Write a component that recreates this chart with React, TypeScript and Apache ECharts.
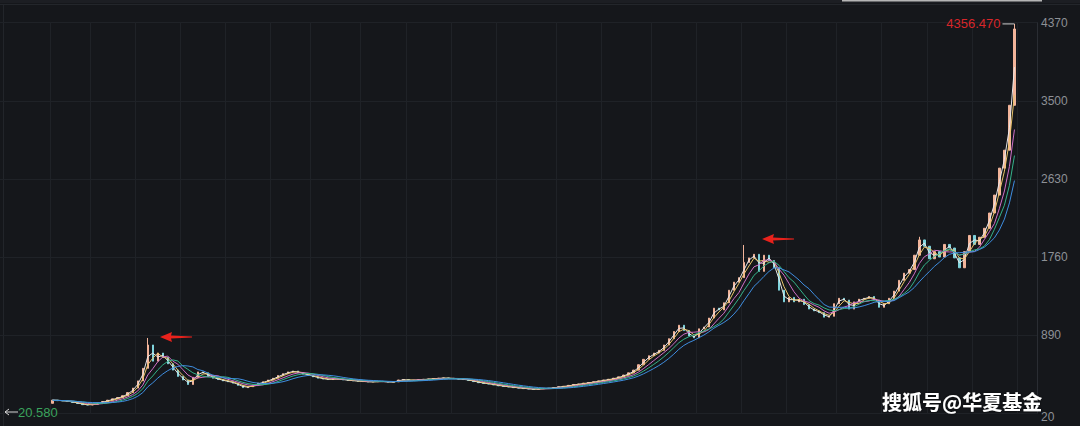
import React, { useEffect, useRef } from "react";
import * as echarts from "echarts";

// ---- data ----
const START_INDEX = 10; // first category slot that holds a candle
const TOTAL_SLOTS = 207; // category slots on the x axis (a few empty at the right)
const FIRST_OPEN = 130;
const CLOSES: number[] = [
  165, 160, 158, 150, 140, 128, 115, 112, 120, 135,
  150, 165, 180, 195, 215, 250, 300, 380, 520, 780,
  600, 690, 640, 570, 500, 430, 390, 340, 420, 480,
  470, 430, 410, 395, 380, 370, 355, 330, 305, 315,
  335, 355, 370, 390, 410, 440, 460, 480, 490, 470,
  455, 440, 425, 410, 400, 395, 405, 400, 390, 385,
  380, 375, 372, 368, 370, 375, 372, 365, 370, 390,
  395, 385, 388, 392, 398, 400, 405, 410, 412, 408,
  404, 400, 395, 385, 372, 360, 352, 345, 335, 325,
  318, 312, 305, 300, 294, 290, 285, 292, 298, 296,
  305, 315, 320, 330, 340, 345, 355, 362, 370, 380,
  390, 398, 410, 425, 445, 470, 500, 560, 620, 660,
  690, 720, 780, 850, 930, 1000, 940, 880, 860, 960,
  980, 1080, 1190, 1170, 1250, 1390, 1480, 1530, 1700, 1750,
  1790, 1600, 1780, 1720, 1640, 1390, 1260, 1310, 1260, 1290,
  1230, 1180, 1160, 1140, 1090, 1100, 1240, 1300, 1280, 1180,
  1260, 1290, 1300, 1320, 1280, 1200, 1240, 1300, 1380, 1500,
  1580, 1620, 1780, 1950, 1880, 1740, 1820, 1760, 1900, 1860,
  1750, 1640, 1820, 2000, 1900, 1980, 2080, 2250, 2450, 2750,
  2950, 3450, 4300,
];
// [category slot, high] for the visible long upper wicks
const HIGH_WICKS: [number, number][] = [
  [29, 858],
  [148, 1894],
  [183, 1985],
  [202, 4356.47],
];
const Y_MIN = 20;
const Y_MAX = 4370;
const Y_STEP = 870;
const MAX_LABEL = "4356.470";
const MIN_LABEL = "20.580";
// moving-average windows (in candles of this chart) and their colours
const MA_PERIODS = [2, 3, 5, 7, 10];
const MA_COLORS = ["#e8e8e8", "#e9c46a", "#d070c8", "#35b28a", "#3f8ee0"];
const GRID_SLOTS = [10, 18, 27, 36, 45, 54, 62, 72, 81, 90, 99, 111, 120, 130, 139, 148, 157, 167, 176, 185, 194, 203];
const WATERMARK = "搜狐号@华夏基金";

export default function App() {
  const ref = useRef<HTMLDivElement>(null);

  useEffect(() => {
    document.body.style.margin = "0";
    const chart = echarts.init(ref.current!, null, { renderer: "svg" });
    const n = TOTAL_SLOTS;
    const categories = Array.from({ length: n }, (_, i) => String(i));
    const wick = new Map<number, number>(HIGH_WICKS);
    const candles: any[] = new Array(n).fill("-");
    CLOSES.forEach((c, k) => {
      const idx = START_INDEX + k;
      const o = k === 0 ? FIRST_OPEN : CLOSES[k - 1];
      const hi = Math.max(o, c, wick.get(idx) ?? 0);
      const lo = Math.min(o, c);
      candles[idx] = [o, c, lo, hi];
    });
    const ma = (p: number) => {
      const arr: any[] = new Array(n).fill("-");
      for (let k = 0; k < CLOSES.length; k++) {
        const from = Math.max(0, k - p + 1);
        let s = 0;
        for (let j = from; j <= k; j++) s += CLOSES[j];
        arr[START_INDEX + k] = +(s / (k - from + 1)).toFixed(2);
      }
      return arr;
    };
    const gridSet = new Set(GRID_SLOTS);
    const maxIdx = START_INDEX + CLOSES.length - 1;

    const arrow = (x: number, y: number) => ({
      type: "polygon",
      z: 100,
      shape: {
        points: [
          [x, y],
          [x + 12, y - 5],
          [x + 11, y - 1.5],
          [x + 32, y - 0.6],
          [x + 32, y + 0.6],
          [x + 11, y + 1.5],
          [x + 12, y + 5],
        ],
      },
      style: { fill: "#e8221c" },
    });

    chart.setOption({
      animation: false,
      backgroundColor: "#15171b",
      grid: { left: 0, right: 43, top: 22.7, bottom: 12.8 },
      xAxis: {
        type: "category",
        data: categories,
        boundaryGap: true,
        axisLine: { show: false },
        axisTick: { show: false },
        axisLabel: { show: false },
        splitLine: {
          show: true,
          interval: (index: number) => gridSet.has(index),
          lineStyle: { color: "#1f2227", width: 1 },
        },
      },
      yAxis: {
        type: "value",
        position: "right",
        min: Y_MIN,
        max: Y_MAX,
        interval: Y_STEP,
        axisLine: { show: true, lineStyle: { color: "#2a2d33" } },
        axisTick: { show: false },
        axisLabel: {
          color: "#8d9096",
          fontSize: 12,
          fontFamily: "Arial",
          margin: 4,
          formatter: (v: number) => (v === Y_MIN ? "{low|" + v + "}" : String(v)),
          rich: { low: { color: "#8d9096", fontSize: 12, fontFamily: "Arial", padding: [8, 0, 0, 0] } },
        },
        splitLine: { show: true, lineStyle: { color: "#1f2227", width: 1 } },
      },
      series: [
        {
          type: "candlestick",
          data: candles,
          barMaxWidth: 2,
          itemStyle: {
            color: "#f2b49a",
            color0: "#7fd3dc",
            borderColor: "#f2b49a",
            borderColor0: "#7fd3dc",
            borderWidth: 1,
          },
          markPoint: {
            symbol: "rect",
            symbolSize: [12, 1],
            symbolOffset: [-6, 0],
            itemStyle: { color: "#d0d0d0" },
            label: {
              show: true,
              position: "left",
              distance: 2,
              color: "#d8262a",
              fontSize: 13,
              fontFamily: "Arial",
              formatter: () => MAX_LABEL,
            },
            data: [{ coord: [maxIdx, 4356.47], value: 4356.47 }],
          },
        },
        ...MA_PERIODS.map((p, i) => ({
          type: "line",
          data: ma(p),
          showSymbol: false,
          symbol: "none",
          lineStyle: { color: MA_COLORS[i], width: 1 },
          z: 3,
        })),
      ],
      graphic: [
        { type: "rect", shape: { x: 0, y: 0, width: 1080, height: 3 }, style: { fill: "#1c1e23" }, silent: true },
        { type: "line", shape: { x1: 0, y1: 4.5, x2: 1080, y2: 4.5 }, style: { stroke: "#23262b", lineWidth: 1 } },
        { type: "rect", shape: { x: 842, y: 0, width: 200, height: 1.5 }, style: { fill: "#b5b5b5" } },
        { type: "line", shape: { x1: 3.5, y1: 5, x2: 3.5, y2: 426 }, style: { stroke: "#22252a", lineWidth: 1 } },
        arrow(160, 337),
        arrow(762, 239),
        {
          type: "polyline",
          z: 100,
          shape: { points: [[18, 412], [5, 412]] },
          style: { stroke: "#d8d8d8", lineWidth: 1 },
        },
        {
          type: "polyline",
          z: 100,
          shape: { points: [[9, 409], [5, 412], [9, 415]] },
          style: { stroke: "#d8d8d8", lineWidth: 1, fill: "none" },
        },
        {
          type: "text",
          z: 100,
          x: 18,
          y: 412,
          style: {
            text: MIN_LABEL,
            fill: "#3aa35c",
            font: "13px Arial",
            textVerticalAlign: "middle",
          },
        },
        {
          type: "text",
          z: 120,
          x: 882,
          y: 401,
          style: {
            text: WATERMARK,
            fill: "#ffffff",
            font: 'bold 20px "Noto Sans CJK SC"',
            textVerticalAlign: "middle",
            textShadowColor: "rgba(0,0,0,0.7)",
            textShadowBlur: 3,
          },
        },
      ],
    });
    return () => chart.dispose();
  }, []);

  return (
    <div
      ref={ref}
      style={{ position: "fixed", left: 0, top: 0, width: 1080, height: 426, background: "#15171b" }}
    />
  );
}
